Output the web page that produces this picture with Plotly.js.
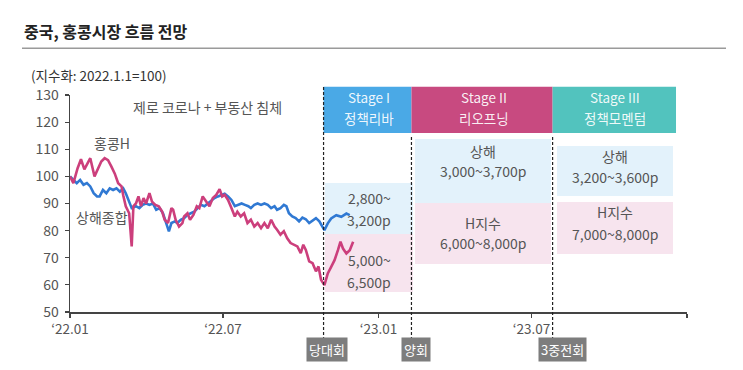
<!DOCTYPE html>
<html>
<head>
<meta charset="utf-8">
<script src="https://cdn.plot.ly/plotly-3.0.1.min.js"></script>
<style>html,body{margin:0;padding:0;background:#fff;}#chart{width:743px;height:370px;}</style>
</head>
<body>
<div id="chart"></div>
<script>
// ---- Data (index, 2022.1.1 = 100) ----
var hDates = ['2022-01-01','2022-01-05','2022-01-10','2022-01-14','2022-01-18','2022-01-22','2022-01-25','2022-01-30','2022-02-03','2022-02-07','2022-02-11','2022-02-15','2022-02-19','2022-02-23','2022-02-27','2022-03-03','2022-03-05','2022-03-08','2022-03-12','2022-03-15','2022-03-17','2022-03-20','2022-03-23','2022-03-26','2022-03-29','2022-04-01','2022-04-05','2022-04-08','2022-04-12','2022-04-16','2022-04-20','2022-04-23','2022-04-27','2022-05-01','2022-05-03','2022-05-06','2022-05-10','2022-05-14','2022-05-16','2022-05-20','2022-05-23','2022-05-27','2022-05-31','2022-06-03','2022-06-07','2022-06-11','2022-06-15','2022-06-19','2022-06-23','2022-06-27','2022-06-30','2022-07-03','2022-07-07','2022-07-11','2022-07-15','2022-07-18','2022-07-22','2022-07-26','2022-07-30','2022-08-03','2022-08-07','2022-08-11','2022-08-15','2022-08-19','2022-08-23','2022-08-27','2022-08-31','2022-09-03','2022-09-07','2022-09-11','2022-09-15','2022-09-19','2022-09-23','2022-09-27','2022-10-01','2022-10-04','2022-10-07','2022-10-11','2022-10-15','2022-10-19','2022-10-22','2022-10-25','2022-10-29','2022-11-02','2022-11-06','2022-11-10','2022-11-14','2022-11-17','2022-11-20','2022-11-24','2022-11-28','2022-12-02'];
var hValues = [100,97.5,103,106.3,102.6,104.8,106.7,100,103,105.5,106.7,106,103.6,101,97.5,96.3,93,89,86.4,74.2,89,90,92.6,89,92,90,93.8,90.7,89.5,89,87,84,82.8,88.3,87.7,84,81.5,82.8,85.2,86.4,84,85.8,89,88.3,92.6,90.7,89,92,93.2,95.3,92.6,93.2,91.3,88.3,85.2,87,85.2,86.4,82.8,84,81.5,82.8,80.9,82.8,80.9,84,81.5,80.3,78.5,79.8,77.2,75.4,74.8,74.2,71.7,74.8,72.9,68.7,68,65,66.8,61.9,59.9,64.2,66.6,69.1,72.8,75.9,73.4,71.6,72.8,75.9];

var shDates = ['2022-01-01','2022-01-05','2022-01-09','2022-01-13','2022-01-17','2022-01-21','2022-01-25','2022-01-29','2022-02-02','2022-02-05','2022-02-09','2022-02-13','2022-02-17','2022-02-21','2022-02-25','2022-03-01','2022-03-05','2022-03-08','2022-03-12','2022-03-15','2022-03-20','2022-03-24','2022-03-28','2022-04-01','2022-04-05','2022-04-09','2022-04-13','2022-04-17','2022-04-21','2022-04-25','2022-04-28','2022-05-01','2022-05-05','2022-05-08','2022-05-12','2022-05-16','2022-05-20','2022-05-24','2022-05-28','2022-06-01','2022-06-05','2022-06-09','2022-06-13','2022-06-17','2022-06-21','2022-06-25','2022-06-29','2022-07-03','2022-07-07','2022-07-11','2022-07-15','2022-07-19','2022-07-23','2022-07-27','2022-07-31','2022-08-03','2022-08-07','2022-08-11','2022-08-15','2022-08-19','2022-08-23','2022-08-27','2022-08-31','2022-09-03','2022-09-07','2022-09-11','2022-09-14','2022-09-17','2022-09-21','2022-09-25','2022-09-29','2022-10-03','2022-10-07','2022-10-11','2022-10-15','2022-10-19','2022-10-23','2022-10-26','2022-10-29','2022-11-02','2022-11-06','2022-11-12','2022-11-18','2022-11-24','2022-11-28'];
var shValues = [100,98.7,97.5,98.7,96.9,97.5,96.3,93.8,92.6,92.6,95,93.8,95.6,95,95.6,94.4,95.6,93.8,90.7,88.3,89,88.3,89.5,90,89.5,90,87.7,88.3,86.4,82.8,79.7,82.8,83.4,82.8,84,84.6,85.8,86.4,87,88.3,89.5,89,90,90.7,92,92.6,93.2,93.6,92.6,91.3,89,89.5,90,89.5,89,88.3,89.5,90,89.5,90,89.5,88.3,89,87.7,88.3,89.5,89,86.4,85.2,84.6,83.4,84.8,84.2,82.8,83.6,84.6,83.4,81.5,80.2,82.7,84.5,85.7,85.1,86.3,85.7];

var tickVals = ['2022-01-01','2022-07-01','2023-01-01','2023-07-01','2024-01-01'];
var tickText = ['\u201822.01','\u201822.07','\u201823.01','\u201823.07',''];

var eventDates  = ['2022-10-28','2023-02-09','2023-07-26'];
var eventLabels = ['당대회','양회','3중전회'];
var stageEnd = '2023-12-19';

var stageNames = ['Stage I','Stage II','Stage III'];
var stageThemes = ['정책리바','리오프닝','정책모멘텀'];
var shanghaiTargets = [['2,800~','3,200p'],['상해','3,000~3,700p'],['상해','3,200~3,600p']];
var hTargets = [['5,000~','6,500p'],['H지수','6,000~8,000p'],['H지수','7,000~8,000p']];

// ---- Styling ----
var FONT = '"Noto Sans CJK KR","Noto Sans",sans-serif';
var TXT = '#555555';
var stageColors = ['#4aa9e6','#c84a80','#52c3be'];
var lightBlue = '#e3f2fb', lightPink = '#f7e4ee';

function py(pix){ return (312 - pix) / 217; }   // pixel -> paper y
function px(pix){ return (pix - 70) / 617; }    // pixel -> paper x

var traces = [
  {x: shDates, y: shValues, type: 'scatter', mode: 'lines', name: '상해종합',
   line: {color: '#3079d3', width: 2.6}, hoverinfo: 'skip'},
  {x: hDates, y: hValues, type: 'scatter', mode: 'lines', name: '홍콩H',
   line: {color: '#cc3f7c', width: 2.6}, hoverinfo: 'skip'}
];

var stageX0 = [eventDates[0], eventDates[1], eventDates[2]];
var stageX1 = [eventDates[1], eventDates[2], stageEnd];

var shapes = [];
// title underline
shapes.push({type:'line', xref:'paper', yref:'paper', x0:px(22), x1:px(726), y0:py(48.3), y1:py(48.3),
  line:{color:'#9a9a9a', width:1.5}});
// stage headers
for (var i=0;i<3;i++){
  shapes.push({type:'rect', xref:'x', yref:'paper', x0:stageX0[i], x1:stageX1[i], y0:py(133), y1:py(86.7),
    fillcolor:stageColors[i], line:{width:0}, layer:'below'});
}
// target boxes (pixel extents of the light panels)
var boxB = [[183,234],[139,203],[146,196]];
var boxP = [[234,292],[203,264],[202,254]];
var boxXs = [[325,413],[415,551],[557,673]];
for (var j=0;j<3;j++){
  shapes.push({type:'rect', xref:'paper', yref:'paper', x0:px(boxXs[j][0]), x1:px(boxXs[j][1]), y0:py(boxB[j][1]), y1:py(boxB[j][0]),
    fillcolor:lightBlue, line:{width:0}, layer:'below'});
  shapes.push({type:'rect', xref:'paper', yref:'paper', x0:px(boxXs[j][0]), x1:px(boxXs[j][1]), y0:py(boxP[j][1]), y1:py(boxP[j][0]),
    fillcolor:lightPink, line:{width:0}, layer:'below'});
}
// event dashed lines
var lineTops = [86.7, 135, 135];
for (var k=0;k<3;k++){
  shapes.push({type:'line', xref:'x', yref:'paper', x0:eventDates[k], x1:eventDates[k], y0:py(340), y1:py(lineTops[k]),
    line:{color:'#222', width:1.2, dash:'3px,2px'}});
}

var ann = [];
ann.push({xref:'paper', yref:'paper', x:px(22), y:py(30.7), xanchor:'left', yanchor:'middle', showarrow:false,
  text:'<b>중국, 홍콩시장 흐름 전망</b>', font:{family:FONT, size:16, color:'#222'}});
ann.push({xref:'paper', yref:'paper', x:px(29), y:py(75), xanchor:'left', yanchor:'middle', showarrow:false,
  text:'(지수화: 2022.1.1=100)', font:{family:FONT, size:13.5, color:'#333'}});
ann.push({xref:'paper', yref:'paper', x:px(207.6), y:py(106.7), xanchor:'center', yanchor:'middle', showarrow:false,
  text:'제로 코로나 + 부동산 침체', font:{family:FONT, size:14, color:TXT}});
ann.push({xref:'paper', yref:'paper', x:px(111.7), y:py(143.3), xanchor:'center', yanchor:'middle', showarrow:false,
  text:'홍콩H', font:{family:FONT, size:14, color:TXT}});
ann.push({xref:'paper', yref:'paper', x:px(102), y:py(216.7), xanchor:'center', yanchor:'middle', showarrow:false,
  text:'상해종합', font:{family:FONT, size:14, color:TXT}});

var headCx = [369, 483.5, 615];
for (var s=0;s<3;s++){
  ann.push({xref:'paper', yref:'paper', x:px(headCx[s]), y:py(97), xanchor:'center', yanchor:'middle', showarrow:false,
    text:stageNames[s], font:{family:FONT, size:13.5, color:'rgba(255,255,255,0.92)'}});
  ann.push({xref:'paper', yref:'paper', x:px(headCx[s]), y:py(118), xanchor:'center', yanchor:'middle', showarrow:false,
    text:stageThemes[s], font:{family:FONT, size:13.5, color:'rgba(255,255,255,0.92)'}});
}
var textCx = [369, 483, 615];
var shY = [[198,220],[151,171],[156,177]];
var hY  = [[260,282],[223,243],[212,234]];
for (var t=0;t<3;t++){
  for (var l=0;l<2;l++){
    ann.push({xref:'paper', yref:'paper', x:px(textCx[t]), y:py(shY[t][l]), xanchor:'center', yanchor:'middle', showarrow:false,
      text:shanghaiTargets[t][l], font:{family:FONT, size:14, color:TXT}});
    ann.push({xref:'paper', yref:'paper', x:px(textCx[t]), y:py(hY[t][l]), xanchor:'center', yanchor:'middle', showarrow:false,
      text:hTargets[t][l], font:{family:FONT, size:14, color:TXT}});
  }
}
var evShift = [3, 5, 10];
for (var e=0;e<3;e++){
  ann.push({xref:'x', yref:'paper', x:eventDates[e], xshift:evShift[e], y:py(349), xanchor:'center', yanchor:'middle', showarrow:false,
    text:eventLabels[e], bgcolor:'#7d7d7d', borderpad:2, font:{family:FONT, size:13, color:'#ffffff'}});
}

var axisCommon = {showline:true, linecolor:'#444', linewidth:1.5, ticks:'outside', ticklen:4, tickwidth:1.2,
  tickcolor:'#444', showgrid:false, zeroline:false, fixedrange:true,
  tickfont:{family:FONT, size:14, color:TXT}};

var layout = {
  width:743, height:370,
  margin:{l:70, r:56, t:95, b:58, pad:0},
  paper_bgcolor:'#fff', plot_bgcolor:'rgba(0,0,0,0)',
  showlegend:false,
  font:{family:FONT, color:TXT},
  xaxis: Object.assign({}, axisCommon, {type:'date', range:['2022-01-01','2024-01-01'],
    tickmode:'array', tickvals:tickVals, ticktext:tickText, tickfont:{family:FONT, size:13.5, color:TXT}}),
  yaxis: Object.assign({}, axisCommon, {range:[50,130], tickmode:'linear', tick0:50, dtick:10, ticklabelstandoff:3}),
  shapes:shapes,
  annotations:ann
};

Plotly.newPlot('chart', traces, layout, {displayModeBar:false, staticPlot:true});
</script>
</body>
</html>
